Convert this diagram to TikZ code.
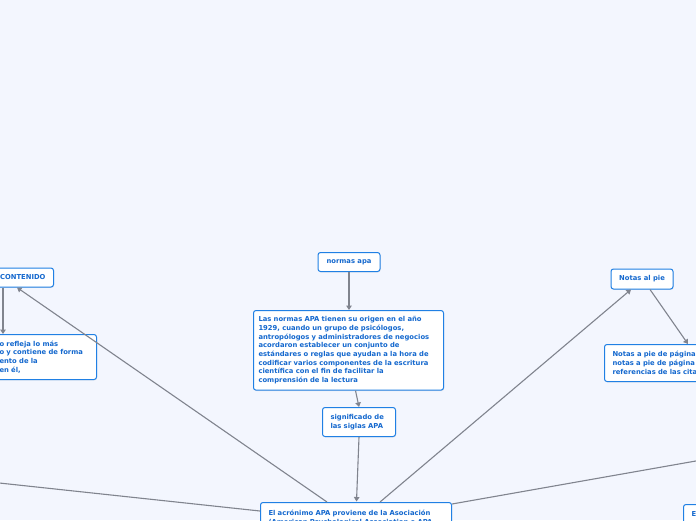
\documentclass[tikz,border=0pt]{standalone}
\usepackage{fontspec}
\setmainfont{DejaVu Sans}
\usetikzlibrary{arrows.meta,calc,shadows}
\definecolor{bgc}{RGB}{243,246,254}
\definecolor{boxc}{RGB}{32,128,228}
\definecolor{txtc}{RGB}{20,104,206}
\definecolor{linec}{RGB}{128,132,142}
\tikzset{
  box/.style={draw=boxc, line width=1pt, fill=white, rounded corners=2.5pt,
    text=txtc, font=\fontsize{6.8}{8.7}\selectfont\bfseries, align=left,
    inner xsep=8pt, inner ysep=5pt,
    drop shadow={opacity=0.18, shadow xshift=0.6pt, shadow yshift=-0.9pt}},
  conn/.style={draw=linec, line width=1.1pt},
  arr/.style={conn, -{Triangle[width=5.5pt,length=4.5pt]}}
}
\begin{document}
\begin{tikzpicture}[x=1pt,y=-1pt]
\fill[bgc] (0,0) rectangle (696,520);
\useasboundingbox (0,0) rectangle (696,520);
% free ends
\coordinate (lfree) at (-10,482);
\coordinate (rfree) at (710,458.5);
% nodes
\node[box, align=center, minimum width=62pt, minimum height=19pt] (normas) at (349,262) {normas apa};
\node[box, anchor=north west, text width=180pt, inner xsep=5pt, inner ysep=6pt] (origen) at (253,310)
 {\hyphenpenalty=10000 Las normas APA tienen su origen en el año\\1929, cuando un grupo de psicólogos,\\antropólogos y administradores de negocios\\acordaron establecer un conjunto de\\estándares o reglas que ayudan a la hora de\\codificar varios componentes de la escritura\\científica con el fin de facilitar la\\comprensión de la lectura};
\node[box, anchor=north west, text width=57pt, minimum height=29pt] (signif) at (322,407)
 {significado de\\las siglas APA};
\node[box, anchor=north west, text width=175pt, inner ysep=7.5pt] (acron) at (260,502)
 {El acrónimo APA proviene de la Asociación\\(American Psychological Association o APA};
\node[box, anchor=east, minimum height=19pt] (contenido) at (54,277.5) {CONTENIDO};
\node[box, anchor=north west, text width=89pt, minimum height=45pt] (resumen) at (-9,334)
 {o refleja lo más\\o y contiene de forma\\ento de la\\en él,};
\node[box, align=center, minimum width=62pt, minimum height=20pt] (notas) at (642,279) {Notas al pie};
\node[box, anchor=north west, text width=110pt, minimum height=37pt] (notastxt) at (604,344)
 {Notas a pie de página\\notas a pie de página\\referencias de las cita};
\node[box, anchor=north west, minimum height=20pt] (ebox) at (683,504) {E};
% connectors
\draw[arr] (normas.south) -- (normas.south |- origen.north);
\draw[arr] ($(origen.south)+(7,0)$) -- ($(signif.north)+(0,0)$);
\draw[arr] ($(signif.south)+(0,0)$) -- ($(acron.north)+(0.5,-0.5)$);
\draw[arr] ($(acron.north west)+(67,0)$) -- (contenido.south -| 17,0);
\draw[arr] ($(acron.north west)+(120,0)$) -- (notas.south -| 631,0);
\draw[arr] (contenido.south -| 3,0) -- (resumen.north -| 3,0);
\draw[arr] (notas.south -| 650,0) -- (notastxt.north -| 688,0);
\draw[conn] (acron.north west |- 0,511) -- (lfree);
\draw[conn] (acron.north east |- 0,504) -- (rfree);
\end{tikzpicture}
\end{document}
